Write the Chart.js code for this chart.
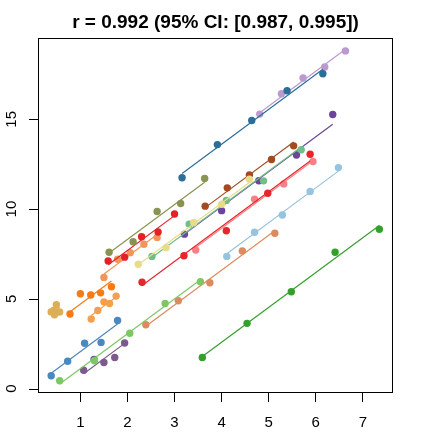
<!DOCTYPE html>
<html>
<head>
<meta charset="utf-8">
<script src="https://cdn.jsdelivr.net/npm/chart.js@4"></script>
<style>
  html, body { margin: 0; padding: 0; background: #fff; }
  #wrap { width: 432px; height: 432px; }
</style>
</head>
<body>
<div id="wrap"><canvas id="chart" width="432" height="432"></canvas></div>
<script>
// one entry per subject: x values, y values, colour
var tanX = [0.49, 0.43, 0.56, 0.45, 0.38];
var tanY = [4.67, 4.35, 4.26, 4.11, 4.27];
var orangeX = [0.78, 1.00, 1.22, 1.43, 1.66];
var orangeY = [4.15, 5.28, 5.21, 5.33, 5.67];
var ltOrangeX = [1.23, 1.37, 1.50, 1.62, 1.76];
var ltOrangeY = [3.87, 4.35, 4.83, 4.74, 5.15];
var steelX = [0.38, 0.73, 1.09, 1.44, 1.79];
var steelY = [0.71, 1.52, 2.52, 2.57, 3.79];
var ltGreenX = [0.56, 1.30, 2.05, 2.80, 3.55];
var ltGreenY = [0.43, 1.55, 3.08, 4.74, 5.95];
var mauveX = [1.07, 1.29, 1.50, 1.73, 1.94];
var mauveY = [1.02, 1.62, 1.45, 1.73, 2.54];
var salmonX = [2.39, 3.08, 3.75, 4.44, 5.13];
var salmonY = [3.55, 4.89, 5.89, 7.66, 8.65];
var dkGreenX = [3.59, 4.54, 5.48, 6.41, 7.35];
var dkGreenY = [1.73, 3.63, 5.39, 7.59, 8.87];
var ltBlueX = [4.11, 4.70, 5.29, 5.88, 6.48];
var ltBlueY = [7.36, 8.71, 9.67, 10.98, 12.31];
var redLoX = [2.31, 3.20, 4.10, 4.98, 5.88];
var redLoY = [5.92, 7.40, 8.79, 10.88, 13.05];
var pinkX = [3.45, 4.70, 5.32, 5.94];
var pinkY = [7.72, 10.55, 11.40, 12.65];
var dkBlueX = [3.16, 3.91, 4.64, 5.39, 6.15];
var dkBlueY = [11.74, 13.59, 14.93, 16.59, 17.54];
var ltPurpleX = [4.81, 5.27, 5.73, 6.19, 6.63];
var ltPurpleY = [15.29, 16.42, 17.30, 17.91, 18.81];
var oliveX = [1.61, 2.12, 2.63, 3.13, 3.64];
var oliveY = [7.59, 8.18, 9.86, 10.31, 11.70];
var redHiX = [1.59, 1.94, 2.30, 2.65, 3.00];
var redHiY = [7.11, 7.32, 8.46, 8.72, 9.72];
var sandyX = [1.50, 1.79, 2.06, 2.35, 2.63];
var sandyY = [6.19, 7.20, 7.57, 8.04, 8.42];
var yellowX = [2.23, 2.82, 3.41, 4.00, 4.59];
var yellowY = [6.92, 7.85, 9.25, 10.27, 11.66];
var tealX = [2.52, 3.31, 4.10, 4.89, 5.69];
var tealY = [7.36, 9.16, 10.48, 11.57, 13.30];
var purpleX = [3.21, 4.00, 4.79, 5.59, 6.36];
var purpleY = [8.60, 9.91, 11.58, 13.01, 15.27];
var brownX = [3.65, 4.12, 4.59, 5.06, 5.53];
var brownY = [10.16, 11.18, 11.90, 12.76, 13.52];

var xTicks = [1, 2, 3, 4, 5, 6, 7];
var yTicks = [0, 5, 10, 15];
var title = "r = 0.992 (95% CI: [0.987, 0.995])";

var subjects = [
  [tanX, tanY, "#DCAE58"],
  [orangeX, orangeY, "#F97A12"],
  [ltOrangeX, ltOrangeY, "#F5A04A"],
  [steelX, steelY, "#4A88BF"],
  [ltGreenX, ltGreenY, "#7CC864"],
  [mauveX, mauveY, "#7C5B8C"],
  [salmonX, salmonY, "#DE8A5F"],
  [dkGreenX, dkGreenY, "#34A02C"],
  [ltBlueX, ltBlueY, "#96C3DE"],
  [redLoX, redLoY, "#E5262B"],
  [pinkX, pinkY, "#F58088"],
  [dkBlueX, dkBlueY, "#2B6E98"],
  [ltPurpleX, ltPurpleY, "#BC9AD0"],
  [oliveX, oliveY, "#8A9350"],
  [redHiX, redHiY, "#E32227"],
  [sandyX, sandyY, "#F3955A"],
  [yellowX, yellowY, "#E8DC8C"],
  [tealX, tealY, "#70BE88"],
  [purpleX, purpleY, "#6C449C"],
  [brownX, brownY, "#A44A1E"]
];

function mean(a) {
  var s = 0;
  for (var i = 0; i < a.length; i++) s += a[i];
  return s / a.length;
}

// common slope of the repeated measures fit
var sxy = 0, sxx = 0;
subjects.forEach(function (s) {
  var mx = mean(s[0]), my = mean(s[1]);
  for (var i = 0; i < s[0].length; i++) {
    sxy += (s[0][i] - mx) * (s[1][i] - my);
    sxx += (s[0][i] - mx) * (s[0][i] - mx);
  }
});
var slope = sxy / sxx;

var datasets = [];
subjects.forEach(function (s) {
  var xs = s[0], ys = s[1], col = s[2];
  var mx = mean(xs), my = mean(ys);
  var lo = Math.min.apply(null, xs), hi = Math.max.apply(null, xs);
  datasets.push({
    type: "line",
    data: [
      { x: lo, y: my + slope * (lo - mx) },
      { x: hi, y: my + slope * (hi - mx) }
    ],
    borderColor: col,
    borderWidth: 1.2,
    pointRadius: 0,
    fill: false
  });
  datasets.push({
    type: "scatter",
    data: xs.map(function (x, i) { return { x: x, y: ys[i] }; }),
    backgroundColor: col,
    borderWidth: 0,
    pointRadius: 3.7
  });
});

var frame = {
  id: "frame",
  afterDraw: function (chart) {
    var ctx = chart.ctx, a = chart.chartArea;
    ctx.save();
    ctx.strokeStyle = "#000";
    ctx.lineWidth = 1;
    ctx.strokeRect(Math.round(a.left) + 0.5, Math.round(a.top) + 0.5,
      Math.round(a.right - a.left) - 1, Math.round(a.bottom - a.top) - 1);

    // y tick marks and rotated labels
    var ys = chart.scales.y;
    ctx.beginPath();
    yTicks.forEach(function (v) {
      var p = Math.round(ys.getPixelForValue(v)) + 0.5;
      ctx.moveTo(a.left - 9, p);
      ctx.lineTo(a.left, p);
    });
    ctx.stroke();

    ctx.fillStyle = "#000";
    ctx.font = "15px 'Liberation Sans', Arial, sans-serif";
    ctx.textAlign = "center";
    ctx.textBaseline = "alphabetic";
    yTicks.forEach(function (v) {
      ctx.save();
      ctx.translate(15.5, ys.getPixelForValue(v));
      ctx.rotate(-Math.PI / 2);
      ctx.fillText(String(v), 0, 0);
      ctx.restore();
    });

    ctx.font = "bold 19px 'Liberation Sans', Arial, sans-serif";
    ctx.fillText(title, (a.left + a.right) / 2, 27.7);
    ctx.restore();
  }
};

new Chart(document.getElementById("chart"), {
  type: "scatter",
  data: { datasets: datasets },
  plugins: [frame],
  options: {
    responsive: false,
    animation: false,
    events: [],
    layout: { padding: { top: 38, right: 39, left: 0, bottom: 0 } },
    plugins: { legend: { display: false }, tooltip: { enabled: false } },
    scales: {
      x: {
        type: "linear",
        min: 0.1,
        max: 7.64,
        afterBuildTicks: function (scale) {
          scale.ticks = xTicks.map(function (v) { return { value: v }; });
        },
        afterFit: function (scale) { scale.height = 39; },
        border: { display: false },
        grid: { drawOnChartArea: false, drawTicks: true, tickLength: 9, color: "#000", lineWidth: 1 },
        ticks: {
          color: "#000",
          padding: 12,
          maxRotation: 0,
          font: { family: "'Liberation Sans', Arial, sans-serif", size: 15 }
        }
      },
      y: {
        type: "linear",
        min: -0.25,
        max: 19.53,
        afterBuildTicks: function (scale) {
          scale.ticks = yTicks.map(function (v) { return { value: v }; });
        },
        afterFit: function (scale) { scale.width = 38; },
        border: { display: false },
        grid: { display: false },
        ticks: { display: false }
      }
    }
  }
});
</script>
</body>
</html>
